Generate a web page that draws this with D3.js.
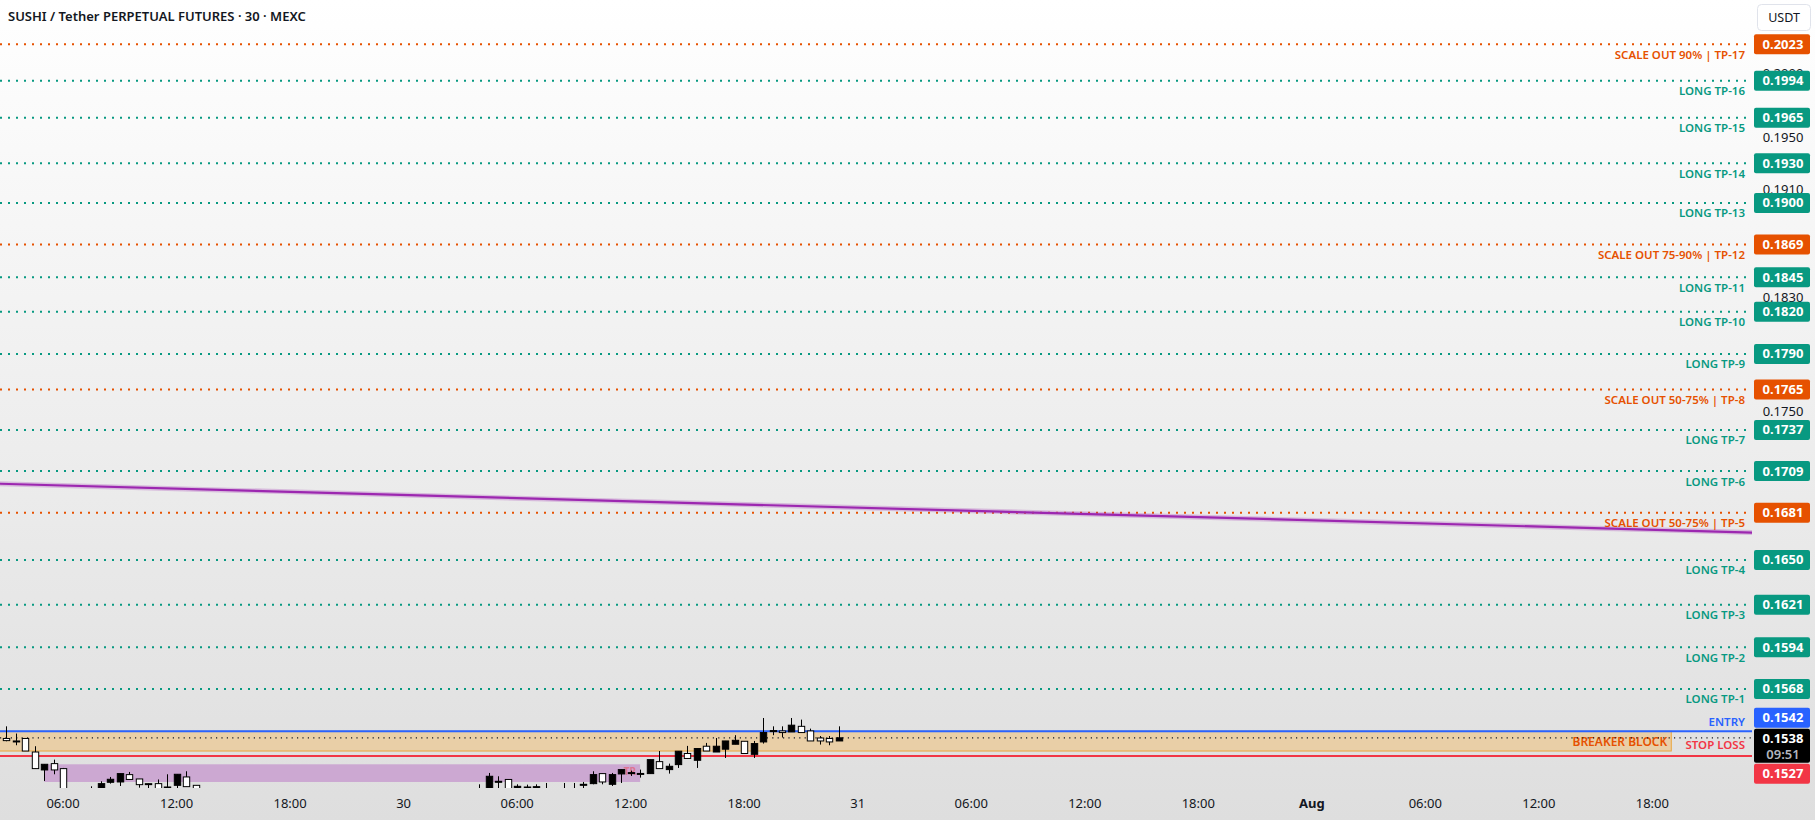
<!DOCTYPE html>
<meta charset="utf-8">
<script src="https://d3js.org/d3.v7.min.js"></script>
<style>
  body { margin: 0; overflow: hidden; }
  text { font-family: "Noto Sans", "Liberation Sans", sans-serif; }
</style>
<div id="chart"></div>
<script>

// take-profit levels, top to bottom
const levelNames = ["SCALE OUT 90% | TP-17", "LONG TP-16", "LONG TP-15", "LONG TP-14", "LONG TP-13",
  "SCALE OUT 75-90% | TP-12", "LONG TP-11", "LONG TP-10", "LONG TP-9", "SCALE OUT 50-75% | TP-8",
  "LONG TP-7", "LONG TP-6", "SCALE OUT 50-75% | TP-5", "LONG TP-4", "LONG TP-3", "LONG TP-2", "LONG TP-1"];
const levelPrices = [0.2023, 0.1994, 0.1965, 0.1930, 0.1900, 0.1869, 0.1845, 0.1820, 0.1790, 0.1765,
  0.1737, 0.1709, 0.1681, 0.1650, 0.1621, 0.1594, 0.1568];
const levelKinds = ["scale", "long", "long", "long", "long", "scale", "long", "long", "long", "scale",
  "long", "long", "scale", "long", "long", "long", "long"];

const entryPrice = 0.1542;
const stopPrice = 0.1527;
const lastPrice = 0.1538;
const countdown = "09:51";
const priceTicks = [0.2000, 0.1950, 0.1910, 0.1870, 0.1830, 0.1790, 0.1750];

// breaker block and the purple range box
const breakerBox = [0.1542, 0.1530];
const breakerTimes = ["2024-07-28 00:00", "2024-08-01 19:00"];
const rangeBox = [0.15220, 0.15114];
const rangeTimes = ["2024-07-29 05:00", "2024-07-30 12:30"];

// trend line
const trendTimes = ["2024-07-29 00:00", "2024-08-02 00:00"];
const trendPrices = [0.17014, 0.16677];

// 30 min candles
const candleTime = [
  "2024-07-29 03:00", "2024-07-29 03:30", "2024-07-29 04:00", "2024-07-29 04:30", "2024-07-29 05:00",
  "2024-07-29 05:30", "2024-07-29 06:00", "2024-07-29 06:30", "2024-07-29 07:00", "2024-07-29 07:30",
  "2024-07-29 08:00", "2024-07-29 08:30", "2024-07-29 09:00", "2024-07-29 09:30", "2024-07-29 10:00",
  "2024-07-29 10:30", "2024-07-29 11:00", "2024-07-29 11:30", "2024-07-29 12:00", "2024-07-29 12:30",
  "2024-07-29 13:00",
  "2024-07-30 04:00", "2024-07-30 04:30", "2024-07-30 05:00", "2024-07-30 05:30", "2024-07-30 06:00",
  "2024-07-30 06:30", "2024-07-30 07:00", "2024-07-30 07:30", "2024-07-30 08:00", "2024-07-30 08:30",
  "2024-07-30 09:00", "2024-07-30 09:30", "2024-07-30 10:00", "2024-07-30 10:30", "2024-07-30 11:00",
  "2024-07-30 11:30", "2024-07-30 12:00", "2024-07-30 12:30", "2024-07-30 13:00", "2024-07-30 13:30",
  "2024-07-30 14:00", "2024-07-30 14:30", "2024-07-30 15:00", "2024-07-30 15:30", "2024-07-30 16:00",
  "2024-07-30 16:30", "2024-07-30 17:00", "2024-07-30 17:30", "2024-07-30 18:00", "2024-07-30 18:30",
  "2024-07-30 19:00", "2024-07-30 19:30", "2024-07-30 20:00", "2024-07-30 20:30", "2024-07-30 21:00",
  "2024-07-30 21:30", "2024-07-30 22:00", "2024-07-30 22:30", "2024-07-30 23:00"];
const candleOpen = [
  0.15376, 0.15361, 0.15376, 0.15294, 0.15186, 0.15224, 0.15194, 0.15005, 0.14980, 0.15010,
  0.15055, 0.15112, 0.15114, 0.15158, 0.15132, 0.15104, 0.15104, 0.15075, 0.15094, 0.15144,
  0.15094,
  0.15040, 0.15070, 0.15116, 0.15129, 0.15076, 0.15075, 0.15074, 0.15060, 0.15060, 0.15050,
  0.15065, 0.15098, 0.15104, 0.15164, 0.15100, 0.15162, 0.15168, 0.15165, 0.15164, 0.15236,
  0.15188, 0.15218, 0.15285, 0.15244, 0.15329, 0.15294, 0.15311, 0.15341, 0.15359, 0.15280,
  0.15355, 0.15422, 0.15422, 0.15416, 0.15450, 0.15422, 0.15379, 0.15376, 0.15361];
const candleHigh = [
  0.15450, 0.15406, 0.15376, 0.15329, 0.15220, 0.15248, 0.15198, 0.15040, 0.15050, 0.15088,
  0.15118, 0.15144, 0.15164, 0.15174, 0.15132, 0.15106, 0.15129, 0.15160, 0.15160, 0.15178,
  0.15094,
  0.15100, 0.15168, 0.15148, 0.15129, 0.15100, 0.15098, 0.15100, 0.15108, 0.15070, 0.15108,
  0.15108, 0.15114, 0.15178, 0.15164, 0.15168, 0.15188, 0.15182, 0.15188, 0.15248, 0.15300,
  0.15224, 0.15299, 0.15331, 0.15315, 0.15349, 0.15379, 0.15361, 0.15396, 0.15359, 0.15361,
  0.15501, 0.15450, 0.15450, 0.15501, 0.15491, 0.15436, 0.15391, 0.15391, 0.15450];
const candleLow = [
  0.15359, 0.15335, 0.15300, 0.15194, 0.15120, 0.15160, 0.14990, 0.14950, 0.14960, 0.14995,
  0.15040, 0.15104, 0.15090, 0.15129, 0.15080, 0.15070, 0.15060, 0.15070, 0.15075, 0.15086,
  0.15040,
  0.15020, 0.15060, 0.15075, 0.15050, 0.15060, 0.15060, 0.15060, 0.15040, 0.15030, 0.15030,
  0.15040, 0.15070, 0.15100, 0.15100, 0.15090, 0.15108, 0.15150, 0.15140, 0.15164, 0.15194,
  0.15164, 0.15198, 0.15255, 0.15198, 0.15300, 0.15294, 0.15258, 0.15341, 0.15285, 0.15258,
  0.15345, 0.15396, 0.15382, 0.15416, 0.15412, 0.15361, 0.15339, 0.15335, 0.15361];
const candleClose = [
  0.15363, 0.15360, 0.15300, 0.15194, 0.15220, 0.15186, 0.15005, 0.14980, 0.15010, 0.15050,
  0.15104, 0.15130, 0.15164, 0.15129, 0.15098, 0.15102, 0.15070, 0.15084, 0.15160, 0.15086,
  0.15050,
  0.15060, 0.15148, 0.15118, 0.15060, 0.15088, 0.15084, 0.15086, 0.15070, 0.15050, 0.15065,
  0.15070, 0.15100, 0.15158, 0.15114, 0.15158, 0.15188, 0.15170, 0.15164, 0.15248, 0.15194,
  0.15208, 0.15299, 0.15255, 0.15315, 0.15300, 0.15329, 0.15361, 0.15365, 0.15285, 0.15345,
  0.15412, 0.15424, 0.15412, 0.15457, 0.15412, 0.15361, 0.15361, 0.15355, 0.15380];

const width = 1815, height = 820;
const plotW = 1752, plotH = 788;
const axisX = 1754;

const teal = "#089981", orange = "#e65100", blue = "#2962ff", red = "#f23645";

const parse = d3.utcParse("%Y-%m-%d %H:%M");

const svg = d3.select("#chart")
  .append("svg")
    .attr("width", width)
    .attr("height", height);

const grad = svg.append("defs").append("linearGradient")
  .attr("id", "bg").attr("x1", 0).attr("y1", 0).attr("x2", 0).attr("y2", 1);
grad.append("stop").attr("offset", "0%").attr("stop-color", "#ffffff");
grad.append("stop").attr("offset", "100%").attr("stop-color", "#dedede");
svg.select("defs").append("clipPath").attr("id", "plotclip")
  .append("rect").attr("width", plotW).attr("height", plotH);

svg.append("rect").attr("width", width).attr("height", height).attr("fill", "url(#bg)");

// scales: time on x, log price on y
const x = d3.scaleUtc()
  .domain([parse("2024-07-29 02:40"), parse("2024-08-01 23:16")])
  .range([0, plotW]);
const y = d3.scaleLog()
  .domain([0.15078, 0.20587])
  .range([plotH, 0]);

const plot = svg.append("g").attr("clip-path", "url(#plotclip)");

// purple range box
plot.append("rect")
  .attr("x", x(parse(rangeTimes[0])))
  .attr("y", y(rangeBox[0]))
  .attr("width", x(parse(rangeTimes[1])) - x(parse(rangeTimes[0])))
  .attr("height", y(rangeBox[1]) - y(rangeBox[0]))
  .attr("fill", "#cca8d2");
plot.append("text")
  .attr("x", x(parse(rangeTimes[1])) - 4)
  .attr("y", y(rangeBox[0]) + 11)
  .attr("text-anchor", "end")
  .attr("font-size", 10).attr("font-weight", 700)
  .attr("fill", red).attr("opacity", 0.45)
  .text("TR");

// breaker block
const bx0 = x(parse(breakerTimes[0])), bx1 = x(parse(breakerTimes[1]));
plot.append("rect")
  .attr("x", bx0).attr("y", y(breakerBox[0]))
  .attr("width", bx1 - bx0).attr("height", y(breakerBox[1]) - y(breakerBox[0]))
  .attr("fill", "#e9cfa7").attr("stroke", "#eaa53c").attr("stroke-width", 1);
plot.append("text")
  .attr("x", bx1 - 4).attr("y", (y(breakerBox[0]) + y(breakerBox[1])) / 2 + 4.5)
  .attr("text-anchor", "end")
  .attr("font-size", 12).attr("font-weight", 600)
  .attr("fill", orange)
  .text("BREAKER BLOCK");

// TP levels
plot.selectAll(".lvl")
  .data(levelPrices)
  .join("line")
    .attr("class", "lvl")
    .attr("x1", 0).attr("x2", plotW)
    .attr("y1", d => y(d)).attr("y2", d => y(d))
    .attr("stroke", (d, i) => levelKinds[i] === "scale" ? orange : teal)
    .attr("stroke-width", 2)
    .attr("stroke-dasharray", "2,6");

// trend line
const trendPts = trendTimes.map((t, i) => [x(parse(t)), y(trendPrices[i])]);
plot.append("path").attr("d", d3.line()(trendPts))
  .attr("stroke", "#9c27b0").attr("stroke-width", 5).attr("stroke-opacity", 0.25).attr("fill", "none");
plot.append("path").attr("d", d3.line()(trendPts))
  .attr("stroke", "#9c27b0").attr("stroke-width", 2.2).attr("fill", "none");

// entry, stop and last price lines
plot.append("line").attr("x1", 0).attr("x2", plotW)
  .attr("y1", y(entryPrice)).attr("y2", y(entryPrice))
  .attr("stroke", blue).attr("stroke-width", 2);
plot.append("line").attr("x1", 0).attr("x2", plotW)
  .attr("y1", y(stopPrice)).attr("y2", y(stopPrice))
  .attr("stroke", red).attr("stroke-width", 2);
plot.append("line").attr("x1", 0).attr("x2", plotW)
  .attr("y1", y(lastPrice)).attr("y2", y(lastPrice))
  .attr("stroke", "#131722").attr("stroke-width", 1.2)
  .attr("stroke-dasharray", "1.2,4.2");

// candles
const candles = candleTime.map((t, i) => ({
  t: parse(t), o: candleOpen[i], h: candleHigh[i], l: candleLow[i], c: candleClose[i]
}));
const bodyW = 6.4;
const cg = plot.append("g");
cg.selectAll(".wick")
  .data(candles)
  .join("line")
    .attr("class", "wick")
    .attr("x1", d => Math.round(x(d.t)) + 0.5).attr("x2", d => Math.round(x(d.t)) + 0.5)
    .attr("y1", d => y(d.h)).attr("y2", d => y(d.l))
    .attr("stroke", "#000").attr("stroke-width", 1);
cg.selectAll(".body")
  .data(candles)
  .join("rect")
    .attr("class", "body")
    .attr("x", d => Math.round(x(d.t)) + 0.5 - bodyW / 2)
    .attr("y", d => y(Math.max(d.o, d.c)))
    .attr("width", bodyW)
    .attr("height", d => Math.max(1, Math.abs(y(d.o) - y(d.c))))
    .attr("fill", d => d.c >= d.o ? "#000" : "#fff")
    .attr("stroke", "#000").attr("stroke-width", 1);

// level labels on the chart
const labels = svg.append("g")
  .attr("font-size", 11.5).attr("font-weight", 600).attr("text-anchor", "end");
labels.selectAll("text")
  .data(levelPrices)
  .join("text")
    .attr("x", plotW - 7)
    .attr("y", d => y(d) + 14.5)
    .attr("fill", (d, i) => levelKinds[i] === "scale" ? orange : teal)
    .text((d, i) => levelNames[i]);
labels.append("text").attr("x", plotW - 7).attr("y", y(entryPrice) - 5.5)
  .attr("fill", blue).text("ENTRY");
labels.append("text").attr("x", plotW - 7).attr("y", y(stopPrice) - 6.5)
  .attr("fill", red).text("STOP LOSS");

// price axis
const axisG = svg.append("g").attr("font-size", 13).attr("text-anchor", "middle");
axisG.selectAll(".tick")
  .data(priceTicks)
  .join("text")
    .attr("class", "tick")
    .attr("x", axisX + 29)
    .attr("y", d => y(d) + 4.5)
    .attr("fill", "#131722")
    .text(d => d.toFixed(4));

// price boxes, pushed away from the last price box when they overlap
const lastTop = y(lastPrice) - 9, lastBot = y(lastPrice) + 25;
const lastMid = (lastTop + lastBot) / 2;
const tags = levelPrices.map((p, i) => ({ p, color: levelKinds[i] === "scale" ? orange : teal }))
  .concat([{ p: entryPrice, color: blue }, { p: stopPrice, color: red }]);
tags.forEach(d => {
  d.top = y(d.p) - 10;
  if (d.top < lastBot && d.top + 20 > lastTop) {
    d.top = y(d.p) < lastMid ? lastTop - 21 : lastBot + 1;
  }
});
const tagG = axisG.selectAll(".tag").data(tags).join("g").attr("class", "tag");
tagG.append("rect")
  .attr("x", axisX).attr("y", d => d.top)
  .attr("width", 56).attr("height", 20).attr("rx", 2)
  .attr("fill", d => d.color);
tagG.append("text")
  .attr("x", axisX + 29).attr("y", d => d.top + 14.5)
  .attr("fill", "#fff").attr("font-weight", 700)
  .text(d => d.p.toFixed(4));

axisG.append("rect").attr("x", axisX).attr("y", lastTop)
  .attr("width", 56).attr("height", lastBot - lastTop).attr("rx", 2).attr("fill", "#000");
axisG.append("text").attr("x", axisX + 29).attr("y", y(lastPrice) + 5.5)
  .attr("fill", "#fff").attr("font-weight", 700).text(lastPrice.toFixed(4));
axisG.append("text").attr("x", axisX + 29).attr("y", y(lastPrice) + 21.5)
  .attr("fill", "#b2b5be").attr("font-weight", 600).text(countdown);

// currency button
svg.append("rect").attr("x", 1757.5).attr("y", 4.5).attr("width", 53).attr("height", 26).attr("rx", 4)
  .attr("fill", "#fff").attr("stroke", "#e0e3eb");
svg.append("text").attr("x", 1784).attr("y", 22).attr("text-anchor", "middle")
  .attr("font-size", 12.5).attr("fill", "#131722").text("USDT");

// time axis
const timeFmt = d => {
  if (d.getUTCHours() === 0) return d.getUTCDate() === 1 ? d3.utcFormat("%b")(d) : d.getUTCDate();
  return d3.utcFormat("%H:%M")(d);
};
svg.append("g")
  .selectAll("text")
  .data(x.ticks(d3.utcHour.every(6)))
  .join("text")
    .attr("x", d => x(d))
    .attr("y", 808)
    .attr("text-anchor", "middle")
    .attr("font-size", 13)
    .attr("font-weight", d => d.getUTCHours() === 0 && d.getUTCDate() === 1 ? 700 : 400)
    .attr("fill", "#131722")
    .text(timeFmt);

// title
svg.append("text").attr("x", 8).attr("y", 21)
  .attr("font-size", 13).attr("font-weight", 600).attr("fill", "#131722")
  .text("SUSHI / Tether PERPETUAL FUTURES · 30 · MEXC");

</script>
